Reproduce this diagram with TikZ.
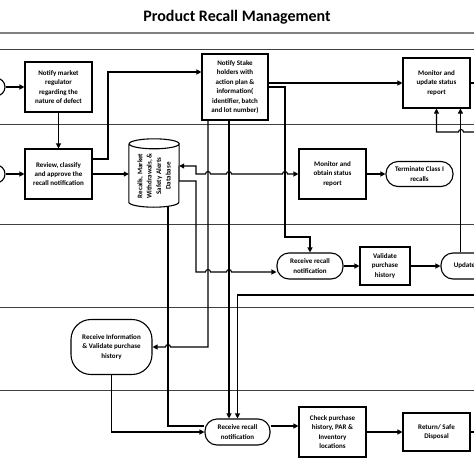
\documentclass[tikz,border=0pt]{standalone}
\usepackage{fontspec}
\setmainfont{Carlito}
\usepackage{tikz}
\usetikzlibrary{arrows.meta}

\begin{document}
\begin{tikzpicture}[
        box/.style = {draw, line width = 1.1pt, fill = white, align = center, inner sep = 1pt,
            minimum width = 67pt, minimum height = 50pt, font = \fontsize{7}{9.4}\selectfont\bfseries},
        term/.style = {draw, line width = 1.1pt, fill = white, rounded corners = 12pt, align = center,
            inner sep = 1pt, minimum width = 66pt, minimum height = 26pt, font = \fontsize{7}{9.4}\selectfont\bfseries},
        start/.style = {draw, line width = 1.1pt, circle, minimum size = 18pt},
        lane/.style = {draw = black!75, line width = 0.8pt},
        flow/.style = {line width = 1.1pt, -{Triangle[length = 5pt, width = 5pt]}},
        link/.style = {line width = 1.1pt}
    ]
        \useasboundingbox (0pt, 0pt) rectangle (474pt, -474pt);
        \clip (0pt, 0pt) rectangle (474pt, -474pt);
        \fill [white] (0pt, 0pt) rectangle (474pt, -474pt);

        % Title and lanes
        \node [font = \fontsize{16}{18}\selectfont\bfseries] (title) at (237pt, -17pt) {Product Recall Management};
        \draw [draw = black!50, line width = 1.6pt] (0pt, -33pt) -- (474pt, -33pt);
        \draw [lane] (0pt, -49pt) -- (474pt, -49pt);
        \draw [lane] (0pt, -124pt) -- (474pt, -124pt);
        \draw [lane] (0pt, -224pt) -- (474pt, -224pt);
        \draw [lane] (0pt, -307pt) -- (474pt, -307pt);
        \draw [lane] (0pt, -390pt) -- (474pt, -390pt);

        % Nodes
        \node [start] (start1) at (-4pt, -87pt) {};
        \node [start] (start2) at (-4pt, -174pt) {};
        \node [box] (regulator) at (58.5pt, -87pt) {Notify market\\regulator\\regarding the\\nature of defect};
        \node [box] (review) at (58.5pt, -174pt) {Review, classify\\and approve the\\recall notification};
        \node [minimum width = 50pt, minimum height = 68pt, inner sep = 0pt] (db) at (154pt, -173pt) {};
        \node [box, minimum width = 66pt, minimum height = 66pt] (stake) at (235pt, -87pt) {Notify Stake\\holders with\\action plan \&\\information(\\identifier, batch\\and lot number)};
        \node [box] (monupd) at (436.5pt, -83pt) {Monitor and\\update status\\report};
        \node [box] (monobt) at (332.5pt, -174pt) {Monitor and\\obtain status\\report};
        \node [term, minimum width = 67pt, minimum height = 25pt] (terminate) at (419.5pt, -174pt) {Terminate Class I\\recalls};
        \node [term] (recv1) at (310pt, -266pt) {Receive recall\\notification};
        \node [box, minimum width = 50pt, minimum height = 38pt] (validate) at (385pt, -266pt) {Validate\\purchase\\history};
        \node [term] (update) at (474pt, -266pt) {Update status};
        \node [term, rounded corners = 20pt, minimum width = 81pt, minimum height = 55pt] (recvinfo) at (111.5pt, -347pt) {Receive Information\\\& Validate purchase\\history};
        \node [term, minimum width = 65pt] (recv2) at (237.5pt, -432pt) {Receive recall\\notification};
        \node [box] (check) at (332.5pt, -432pt) {Check purchase\\history, PAR \&\\Inventory\\locations};
        \node [box, minimum height = 38pt] (return) at (436.5pt, -432pt) {Return/ Safe\\Disposal};

        % Database
        \draw [link, fill = white] ([yshift = -5pt]db.north west) -- ([yshift = 5pt]db.south west)
            arc (180:360:25pt and 5pt) -- ([yshift = -5pt]db.north east)
            arc (0:180:25pt and 5pt) arc (180:360:25pt and 5pt);
        \node [rotate = 90, align = center, font = \fontsize{7}{9.4}\selectfont\bfseries] at ([yshift = -3pt]db.center)
            {Recalls, Market\\Withdrawals, \&\\Safety Alerts\\Database};

        % Free ends
        \coordinate (out1) at (480pt, -83pt);
        \coordinate (out2) at (480pt, -132pt);
        \coordinate (out3) at (480pt, -295pt);
        \coordinate (out4) at (480pt, -432pt);

        % Lines
        \draw [flow] (start1) -- (regulator);
        \draw [flow] (start2) -- (review);
        \draw [flow] (regulator) -- (review);
        \draw [flow] ([yshift = 15pt]review.east) -- (108pt, -159pt) |- ([yshift = 15pt]stake.west);
        \draw [flow] (review.east) -- (review.east -| db.west);
        \draw [flow] ([yshift = 4pt]stake.east) -- (monupd.west);
        \draw [link] (monupd.east) -- (out1);
        \draw [flow] (stake.east) -- (285pt, -87pt) -- (285pt, -237pt) -| (recv1.north);
        \draw [flow] ([xshift = -27pt]stake.south) -- (208pt, -347pt) -- (170.5pt, -347pt)
            arc (0:180:2.5pt) -- (recvinfo.east);
        \draw [flow] ([xshift = -6pt]stake.south) -- ([xshift = -6pt]stake.south |- recv2.north);
        \draw [{Triangle[length = 5pt, width = 5pt]}-{Triangle[length = 5pt, width = 5pt]}, line width = 1.1pt]
            ([yshift = 7pt]db.east) -- (196pt, -166pt) -- (196pt, -174pt) -- (205.5pt, -174pt)
            arc (180:0:2.5pt) -- (226.5pt, -174pt) arc (180:0:2.5pt) -- (282.5pt, -174pt)
            arc (180:0:2.5pt) -- (monobt.west);
        \draw [flow] ([yshift = -8pt]db.east) -- (196pt, -181pt) -- (196pt, -272pt) -- (205.5pt, -272pt)
            arc (180:0:2.5pt) -- (226.5pt, -272pt) arc (180:0:2.5pt) -- ([yshift = -6pt]recv1.west);
        \draw [link] ([xshift = 14pt, yshift = 1pt]db.south) |- ([yshift = 6pt]recv2.west);
        \draw [flow] (recvinfo.south) |- (recv2.west);
        \draw [flow] (monobt) -- (terminate);
        \draw [flow] (recv1) -- (validate);
        \draw [flow] (validate) -- (update);
        \draw [flow] ([xshift = 20pt]update.north west) -- ([xshift = 20pt]update.north west |- monupd.south);
        \draw [flow] (out2) -- (463.5pt, -132pt) arc (0:180:2.5pt) -| (monupd.south);
        \draw [flow] (out3) -| (recv2.north);
        \draw [flow] ([yshift = 6pt]recv2.east) -- ([yshift = 6pt]recv2.east -| check.west);
        \draw [flow] (check) -- (return);
        \draw [link] (return.east) -- (out4);

    \end{tikzpicture}
\end{document}
